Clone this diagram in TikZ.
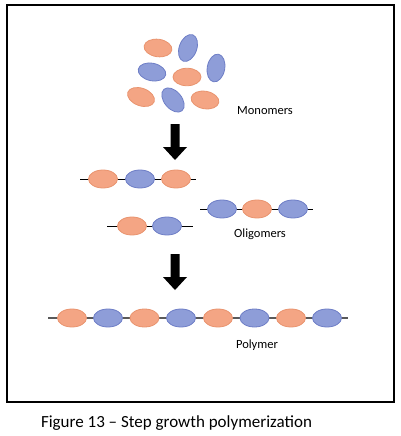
\documentclass[tikz,border=0pt]{standalone}
\usepackage{fontspec}
\setmainfont{Carlito}
\usetikzlibrary{shapes.geometric}
\definecolor{orfill}{HTML}{F4A584}
\definecolor{ordraw}{HTML}{E9946F}
\definecolor{blfill}{HTML}{8E9DD8}
\definecolor{bldraw}{HTML}{6E7EC6}
\tikzset{
  or/.style={ellipse,draw=ordraw,fill=orfill,line width=0.8pt,minimum width=29pt,minimum height=18pt,inner sep=0pt},
  bl/.style={ellipse,draw=bldraw,fill=blfill,line width=0.8pt,minimum width=29pt,minimum height=18pt,inner sep=0pt},
  mo/.style={ellipse,line width=0.8pt,minimum width=28pt,minimum height=17.5pt,inner sep=0pt},
  lbl/.style={font=\fontsize{12.5}{14}\selectfont,inner sep=0pt},
  bond/.style={line width=1pt,black},
  pbond/.style={line width=1.2pt,black!65},
  bigarrow/.style={fill=black,draw=none}
}
\begin{document}
\begin{tikzpicture}[x=1pt,y=-1pt]
\useasboundingbox (0,0) rectangle (400,436);
% frame
\draw[line width=1.8pt] (7,5) rectangle (394,402);
% monomers
\node[mo,draw=ordraw,fill=orfill,rotate=-8] (m1) at (158,48) {};
\node[mo,draw=bldraw,fill=blfill,rotate=70] (m2) at (188,48) {};
\node[mo,draw=bldraw,fill=blfill,rotate=-12] (m3) at (152,72) {};
\node[mo,draw=ordraw,fill=orfill,rotate=0] (m4) at (187,77) {};
\node[mo,draw=bldraw,fill=blfill,rotate=80] (m5) at (216,68) {};
\node[mo,draw=ordraw,fill=orfill,rotate=-20] (m6) at (141,97) {};
\node[mo,draw=bldraw,fill=blfill,rotate=-50] (m7) at (173,100) {};
\node[mo,draw=ordraw,fill=orfill,rotate=-10] (m8) at (205,100) {};
\node[lbl] (lmono) at (265,111) {Monomers};
% arrow 1
\fill[bigarrow] (170.5,124) -- (179.5,124) -- (179.5,147) -- (187,147) -- (175,160) -- (163,147) -- (170.5,147) -- cycle;
% oligomer chain 1
\coordinate (a0) at (80,179);
\coordinate (a4) at (196,179);
\draw[bond] (a0) -- (a4);
\node[or] (a1) at (103,179) {};
\node[bl] (a2) at (140,179) {};
\node[or] (a3) at (176,179) {};
% oligomer chain 2
\coordinate (b0) at (200,209);
\coordinate (b4) at (313,209);
\draw[bond] (b0) -- (b4);
\node[bl] (b1) at (222,209) {};
\node[or] (b2) at (257,209) {};
\node[bl] (b3) at (293,209) {};
% oligomer chain 3
\coordinate (c0) at (107,226);
\coordinate (c3) at (193,226);
\draw[bond] (c0) -- (c3);
\node[or] (c1) at (132,226) {};
\node[bl] (c2) at (167,226) {};
\node[lbl] (loli) at (260,234) {Oligomers};
% arrow 2
\fill[bigarrow] (170.5,254) -- (179.5,254) -- (179.5,277) -- (187,277) -- (175,290) -- (163,277) -- (170.5,277) -- cycle;
% polymer
\coordinate (p0) at (48,318);
\coordinate (p9) at (348,318);
\draw[pbond] (p0) -- (p9);
\node[or] (p1) at (72,318) {};
\node[bl] (p2) at (108,318) {};
\node[or] (p3) at (144.5,318) {};
\node[bl] (p4) at (181,318) {};
\node[or] (p5) at (218,318) {};
\node[bl] (p6) at (254.5,318) {};
\node[or] (p7) at (291,318) {};
\node[bl] (p8) at (327,318) {};
\node[lbl] (lpoly) at (257,345) {Polymer};
% caption
\node[font=\fontsize{17}{20}\selectfont,inner sep=0pt] (cap) at (176.5,423) {Figure 13 – Step growth polymerization};
\end{tikzpicture}
\end{document}
